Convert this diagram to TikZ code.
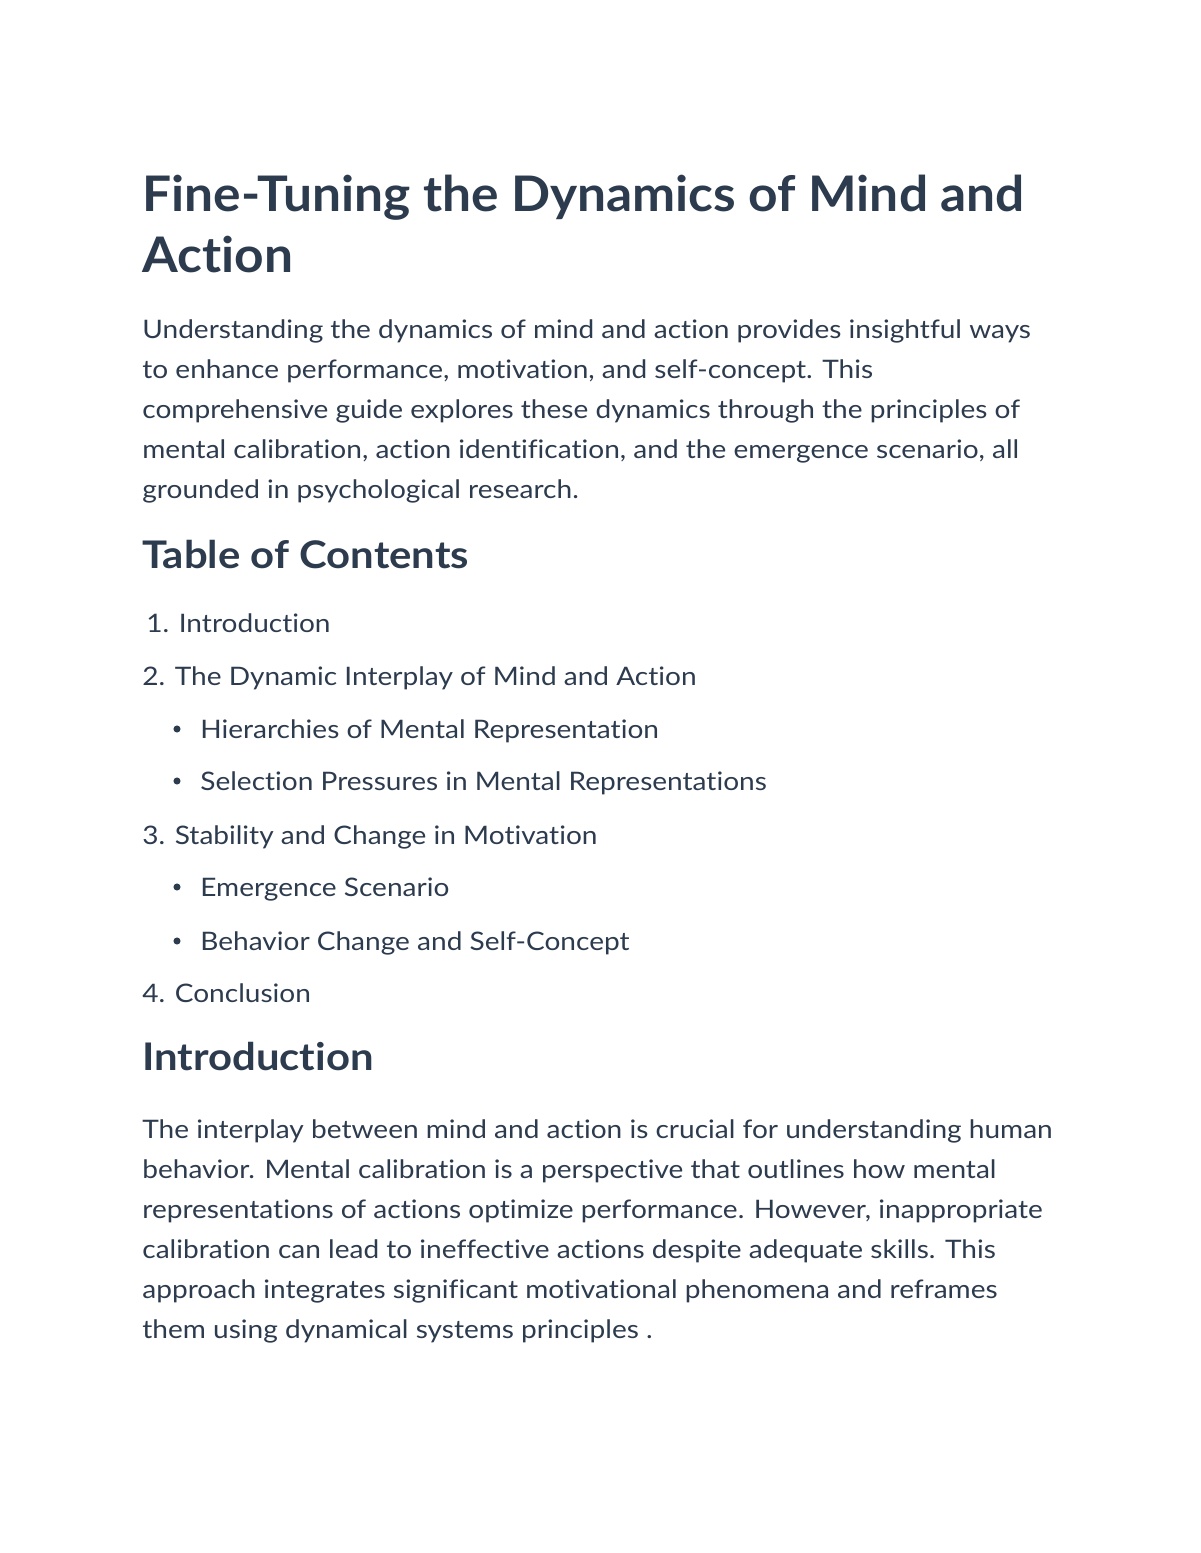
\documentclass[tikz,border=0pt]{standalone}
\usepackage{fontspec}
\setmainfont{Lato}[FakeStretch=1.1, Ligatures=NoCommon]
\newfontfamily\titlefont{Lato}[FakeStretch=1.05, Ligatures=NoCommon]
\definecolor{ink}{HTML}{2D3B4E}
\tikzset{
  txt/.style={anchor=base west, inner sep=0pt, text=ink, font=\fontsize{13}{15}\selectfont},
  title/.style={anchor=base west, inner sep=0pt, text=ink, font=\titlefont\fontsize{25}{30}\selectfont\bfseries},
  head/.style={anchor=base west, inner sep=0pt, text=ink, font=\fontsize{19.4}{23}\selectfont\bfseries},
  dot/.style={circle, fill=ink, inner sep=0pt, minimum size=3.6pt}
}
\begin{document}
\begin{tikzpicture}[x=0.51pt, y=-0.51pt]
  \useasboundingbox[fill=white] (0,0) rectangle (1200,1553);

  \node[title] (t1) at (142,212) {Fine-Tuning the Dynamics of Mind and};
  \node[title] (t2) at (142,272) {Action};

  \node[txt] (p1) at (142,338) {Understanding the dynamics of mind and action provides insightful ways};
  \node[txt] (p2) at (142,378) {to enhance performance, motivation, and self-concept. This};
  \node[txt] (p3) at (142,418) {comprehensive guide explores these dynamics through the principles of};
  \node[txt] (p4) at (142,458) {mental calibration, action identification, and the emergence scenario, all};
  \node[txt] (p5) at (142,498) {grounded in psychological research.};

  \node[head] (toc) at (142,568) {Table of Contents};

  \node[txt] (l1) at (146,632) {1. Introduction};
  \node[txt] (l2) at (142,685) {2. The Dynamic Interplay of Mind and Action};
  \node[dot] (b1) at (177,729) {};
  \node[txt] (s1) at (200,738) {Hierarchies of Mental Representation};
  \node[dot] (b2) at (177,781) {};
  \node[txt] (s2) at (200,790) {Selection Pressures in Mental Representations};
  \node[txt] (l3) at (142,844) {3. Stability and Change in Motivation};
  \node[dot] (b3) at (177,887) {};
  \node[txt] (s3) at (200,896) {Emergence Scenario};
  \node[dot] (b4) at (177,941) {};
  \node[txt] (s4) at (200,950) {Behavior Change and Self-Concept};
  \node[txt] (l4) at (142,1002) {4. Conclusion};

  \node[head] (intro) at (142,1070) {Introduction};

  \node[txt] (q1) at (142,1138) {The interplay between mind and action is crucial for understanding human};
  \node[txt] (q2) at (142,1178) {behavior. Mental calibration is a perspective that outlines how mental};
  \node[txt] (q3) at (142,1218) {representations of actions optimize performance. However, inappropriate};
  \node[txt] (q4) at (142,1258) {calibration can lead to ineffective actions despite adequate skills. This};
  \node[txt] (q5) at (142,1298) {approach integrates significant motivational phenomena and reframes};
  \node[txt] (q6) at (142,1338) {them using dynamical systems principles .};
\end{tikzpicture}
\end{document}
